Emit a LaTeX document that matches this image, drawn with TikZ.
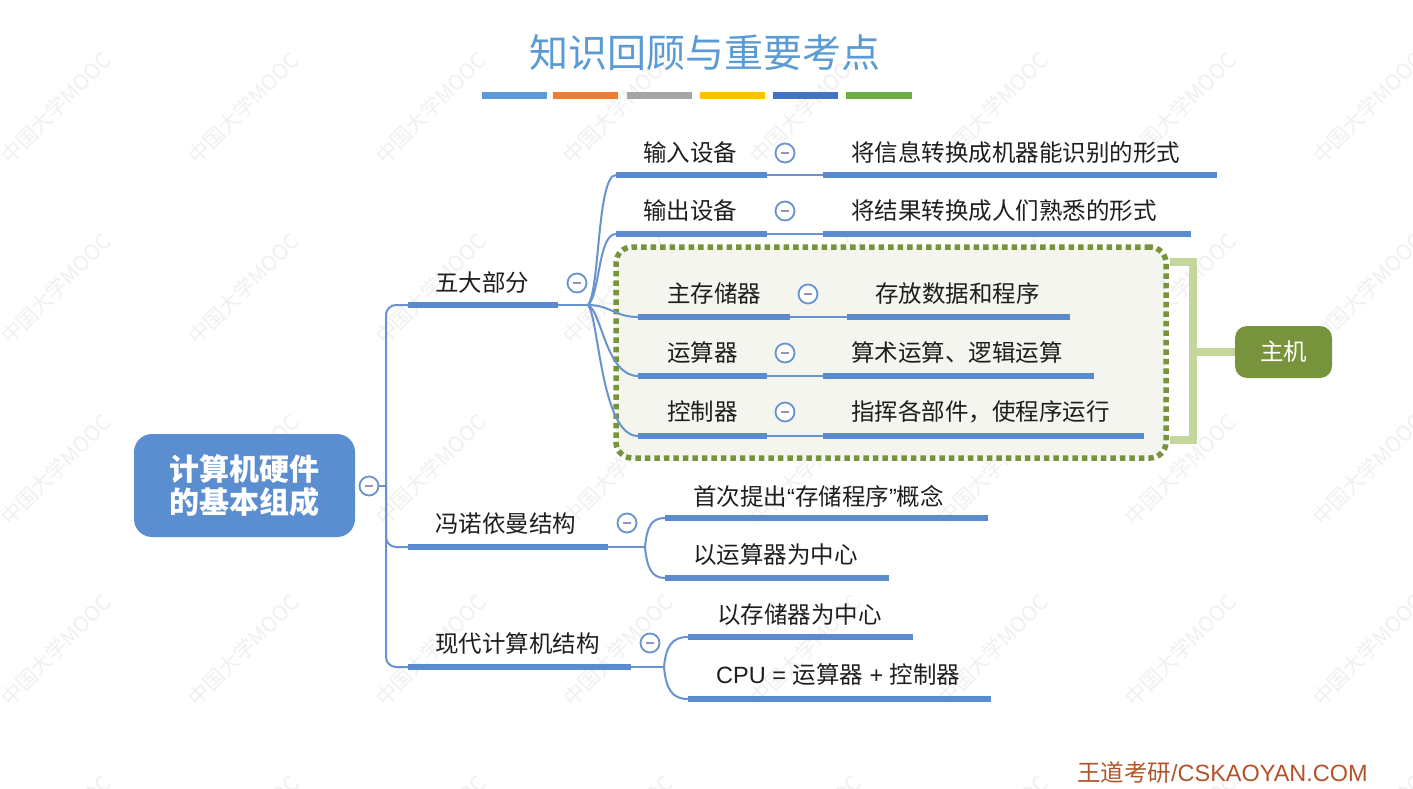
\documentclass[tikz,border=0pt]{standalone}
\usepackage{fontspec}
\setmainfont{Noto Sans CJK SC}
\newfontfamily\libsans{Liberation Sans}
\definecolor{barblue}{HTML}{5B8BCF}
\definecolor{lineblue}{HTML}{6893CF}
\definecolor{minusc}{HTML}{9A90C2}
\definecolor{rootblue}{HTML}{5B8ED1}
\definecolor{titleblue}{HTML}{5B9BD5}
\definecolor{txt}{HTML}{1E1E1E}
\definecolor{olive}{HTML}{77933C}
\definecolor{boxfill}{HTML}{F3F5EE}
\definecolor{brkgreen}{HTML}{C3D69B}
\definecolor{footc}{HTML}{B4532A}
\definecolor{cA}{HTML}{5B9BD5}
\definecolor{cB}{HTML}{ED7D31}
\definecolor{cC}{HTML}{A5A5A5}
\definecolor{cD}{HTML}{FFC000}
\definecolor{cE}{HTML}{4472C4}
\definecolor{cF}{HTML}{70AD47}
\tikzset{
  lbl/.style={anchor=west, inner sep=0pt, font=\fontsize{23.5}{28}\selectfont, text=txt},
  bar/.style={line width=5.5pt, draw=barblue},
  conn/.style={line width=2pt, draw=lineblue},
  minus/.style={circle, draw=lineblue, line width=1.8pt, fill=white, minimum size=19pt, inner sep=0pt,
    path picture={\draw[draw=minusc, line width=1.6pt] ([xshift=-4pt]path picture bounding box.center) -- ([xshift=4pt]path picture bounding box.center);}},
  rootbox/.style={rectangle, rounded corners=18pt, fill=rootblue, minimum width=221pt, minimum height=103pt,
    text=white, align=center, font=\fontsize{30}{33}\selectfont\bfseries, inner sep=0pt},
  hostbox/.style={rectangle, rounded corners=12pt, fill=olive, minimum width=97pt, minimum height=52pt,
    text=white, font=\fontsize{23.5}{28}\selectfont, inner sep=0pt},
  dotbox/.style={rectangle, rounded corners=16pt, fill=boxfill, draw=olive, line width=5.5pt,
    dash pattern=on 5.5pt off 4pt, minimum width=550pt, minimum height=211pt, inner sep=0pt},
  brk/.style={line width=8pt, draw=brkgreen},
  wm/.style={rotate=45, text=black!6, font=\fontsize{21}{24}\selectfont, inner sep=0pt},
}
\begin{document}
\begin{tikzpicture}[x=1pt,y=-1pt]
\useasboundingbox (0,0) rectangle (1413,789);
\fill[white] (0,0) rectangle (1413,789);
% watermark
\foreach \r [count=\i] in {108,288.7,469.4,650,830.8}
  \foreach \c [count=\j] in {56,243.4,430.8,618.2,805.6,993,1180.4,1367.8}
    \node[wm] (wm\i-\j) at (\c,\r) {中国大学MOOC};
% title
\node[font=\fontsize{39}{44}\selectfont, text=titleblue, inner sep=0pt] (title) at (705,53) {知识回顾与重要考点};
\fill[cA] (482,92.5) rectangle (547,99.5);
\fill[cB] (553,92.5) rectangle (618,99.5);
\fill[cC] (627,92.5) rectangle (692,99.5);
\fill[cD] (700,92.5) rectangle (765,99.5);
\fill[cE] (773,92.5) rectangle (838,99.5);
\fill[cF] (846,92.5) rectangle (912,99.5);
% host group box
\node[dotbox] (grp) at (891,352.5) {};
% root
\node[rootbox] (root) at (244.5,485.5) {计算机硬件\\的基本组成};
\node[minus] (m0) at (369,486) {};
\coordinate (tr) at (386,486);
\coordinate (aS) at (408,305);
\coordinate (bS) at (408,547);
\coordinate (cS) at (408,667);
\draw[conn] (m0.east) -- (tr);
\draw[conn, rounded corners=10pt] (aS) -| (tr) |- (cS);
\draw[conn, rounded corners=10pt] (tr) |- (bS);
% level 1: A
\coordinate (aE) at (558,305);
\coordinate (jA) at (588,305);
\draw[bar] (aS) -- (aE);
\draw[conn] (aE) -- (jA);
\node[lbl] (tA) at (435,283) {五大部分};
\node[minus] (mA) at (577,283) {};
% level 1: B
\coordinate (bE) at (608,547);
\coordinate (jB) at (645,547);
\draw[bar] (bS) -- (bE);
\draw[conn] (bE) -- (jB);
\node[lbl] (tB) at (435,524) {冯诺依曼结构};
\node[minus] (mB) at (627,523) {};
% level 1: C
\coordinate (cE) at (631,667);
\coordinate (jC) at (664,667);
\draw[bar] (cS) -- (cE);
\draw[conn] (cE) -- (jC);
\node[lbl] (tC) at (435,644) {现代计算机结构};
\node[minus] (mC) at (650,643) {};
% A children
\coordinate (a1s) at (616,175); \coordinate (a1e) at (767,175);
\coordinate (a1l) at (823,175); \coordinate (a1r) at (1217,175);
\coordinate (a2s) at (616,234); \coordinate (a2e) at (767,234);
\coordinate (a2l) at (823,234); \coordinate (a2r) at (1191,234);
\coordinate (a3s) at (638,317); \coordinate (a3e) at (790,317);
\coordinate (a3l) at (847,317); \coordinate (a3r) at (1070,317);
\coordinate (a4s) at (638,376); \coordinate (a4e) at (767,376);
\coordinate (a4l) at (823,376); \coordinate (a4r) at (1094,376);
\coordinate (a5s) at (638,436); \coordinate (a5e) at (767,436);
\coordinate (a5l) at (823,436); \coordinate (a5r) at (1144,436);
\draw[conn] (jA) .. controls (600,290) and (597,175) .. (a1s);
\draw[conn] (jA) .. controls (600,295) and (598,234) .. (a2s);
\draw[conn] (jA) .. controls (610,305) and (615,317) .. (a3s);
\draw[conn] (jA) .. controls (602,312) and (606,376) .. (a4s);
\draw[conn] (jA) .. controls (599,318) and (601,436) .. (a5s);
\foreach \k in {1,...,5}{
  \draw[bar] (a\k s) -- (a\k e);
  \draw[conn] (a\k e) -- (a\k l);
  \draw[bar] (a\k l) -- (a\k r);
}
\node[lbl] (tA1) at (643,153) {输入设备};
\node[minus] (mA1) at (785,153) {};
\node[lbl] (lA1) at (851,153) {将信息转换成机器能识别的形式};
\node[lbl] (tA2) at (643,211) {输出设备};
\node[minus] (mA2) at (785,211) {};
\node[lbl] (lA2) at (851,211) {将结果转换成人们熟悉的形式};
\node[lbl] (tA3) at (667,294) {主存储器};
\node[minus] (mA3) at (808,294) {};
\node[lbl] (lA3) at (875,294) {存放数据和程序};
\node[lbl] (tA4) at (667,353) {运算器};
\node[minus] (mA4) at (785,353) {};
\node[lbl] (lA4) at (851,353) {算术运算、逻辑运算};
\node[lbl] (tA5) at (667,412) {控制器};
\node[minus] (mA5) at (785,412) {};
\node[lbl] (lA5) at (851,412) {指挥各部件，使程序运行};
% B children
\coordinate (b1s) at (665,518); \coordinate (b1e) at (988,518);
\coordinate (b2s) at (665,578); \coordinate (b2e) at (889,578);
\draw[conn] (jB) .. controls (647,527) and (651,518) .. (b1s);
\draw[conn] (jB) .. controls (647,567) and (651,578) .. (b2s);
\draw[bar] (b1s) -- (b1e);
\draw[bar] (b2s) -- (b2e);
\node[lbl] (lB1) at (693,496) {首次提出{\libsans “}存储程序{\libsans ”}概念};
\node[lbl] (lB2) at (693,555) {以运算器为中心};
% C children
\coordinate (c1s) at (688,637); \coordinate (c1e) at (913,637);
\coordinate (c2s) at (688,699); \coordinate (c2e) at (991,699);
\draw[conn] (jC) .. controls (666,646) and (672,637) .. (c1s);
\draw[conn] (jC) .. controls (666,689) and (672,699) .. (c2s);
\draw[bar] (c1s) -- (c1e);
\draw[bar] (c2s) -- (c2e);
\node[lbl] (lC1) at (717,615) {以存储器为中心};
\node[lbl] (lC2) at (716,675) {{\libsans CPU = }运算器{\libsans\ + }控制器};
% host bracket
\node[hostbox] (host) at (1283.5,352) {主机};
\coordinate (bt1) at (1170,262);
\coordinate (bt2) at (1193,262);
\coordinate (bb2) at (1193,440);
\coordinate (bb1) at (1170,440);
\coordinate (bm) at (1193,352);
\draw[brk] (bt1) -- (bt2) -- (bb2) -- (bb1);
\draw[brk] (bm) -- (host.west);
% footer
\node[anchor=east, inner sep=0pt, text=footc, font=\fontsize{23.5}{28}\selectfont] (foot) at (1368,773) {王道考研{\libsans /CSKAOYAN.COM}};
\end{tikzpicture}
\end{document}
